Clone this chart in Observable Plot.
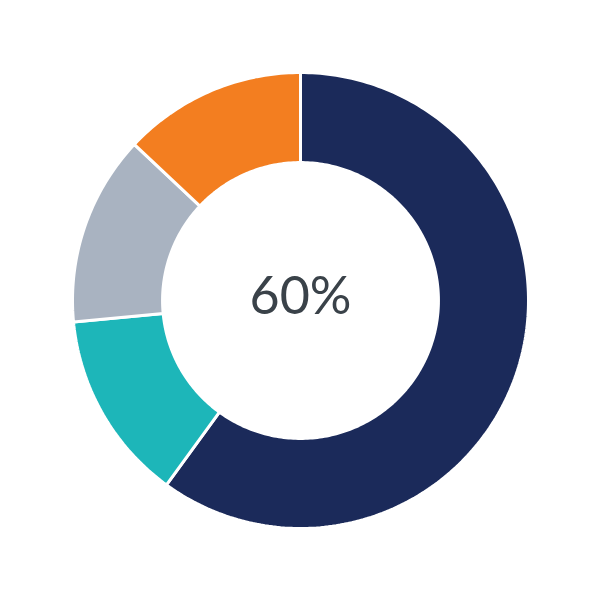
<!DOCTYPE html>
<html>
<head>
<meta charset="utf-8">
<script src="https://cdn.jsdelivr.net/npm/d3@7"></script>
<script src="https://cdn.jsdelivr.net/npm/@observablehq/plot@0.6"></script>
<style>
  html, body { margin: 0; padding: 0; background: #fff; }
  #chart svg { display: block; }
</style>
</head>
<body>
<div id="chart"></div>
<script>
const categories = ["Segment 1", "Segment 2", "Segment 3", "Segment 4"];
const values = [60, 13.5, 13.5, 13];
const colors = ["#1b2a5a", "#1db6b9", "#a9b3c1", "#f37e20"];
const centerLabel = "60%";

const innerRatio = 0.605;
const total = d3.sum(values);

// Build slice polygons from the data (angles clockwise from 12 o'clock)
let acc = 0;
const slices = values.map((v, i) => {
  const a0 = acc / total * 2 * Math.PI;
  acc += v;
  const a1 = acc / total * 2 * Math.PI;
  const n = Math.max(2, Math.ceil((a1 - a0) / (Math.PI / 180)));
  const pts = [];
  for (let k = 0; k <= n; k++) {
    const a = a0 + (a1 - a0) * k / n;
    pts.push({x: Math.sin(a), y: Math.cos(a)});
  }
  for (let k = n; k >= 0; k--) {
    const a = a0 + (a1 - a0) * k / n;
    pts.push({x: innerRatio * Math.sin(a), y: innerRatio * Math.cos(a)});
  }
  return {category: categories[i], color: colors[i], pts};
});

const R = 300 / 228;

const chart = Plot.plot({
  width: 600,
  height: 600,
  margin: 0,
  x: {domain: [-R, R], axis: null},
  y: {domain: [-R, R], axis: null},
  marks: [
    ...slices.map(s => Plot.line(s.pts, {
      x: "x", y: "y",
      curve: "linear-closed",
      fill: s.color,
      stroke: "white",
      strokeWidth: 3,
      strokeLinejoin: "miter"
    })),
    Plot.text([centerLabel], {
      x: () => 0, y: () => 0,
      text: d => d,
      dy: -3,
      fontSize: 52,
      fontFamily: "Lato, sans-serif",
      fontWeight: 400,
      fill: "#3a4249",
      textAnchor: "middle",
      lineAnchor: "middle"
    })
  ]
});

document.getElementById("chart").appendChild(chart);
</script>
</body>
</html>
